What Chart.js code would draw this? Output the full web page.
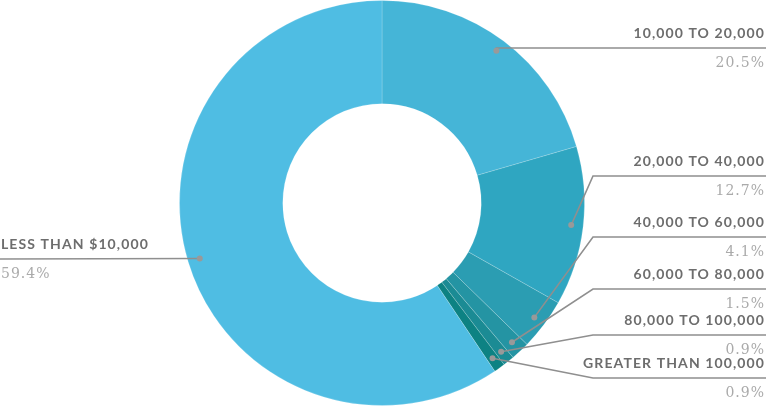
<!DOCTYPE html>
<html>
<head>
<meta charset="utf-8">
<script src="https://cdn.jsdelivr.net/npm/chart.js@4"></script>
<style>
  html, body { margin: 0; padding: 0; background: #fff; }
  #wrap { width: 768px; height: 406px; position: relative; }
</style>
</head>
<body>
<div id="wrap"><canvas id="chartId"></canvas></div>
<script>
const categories = ["10,000 TO 20,000", "20,000 TO 40,000", "40,000 TO 60,000", "60,000 TO 80,000",
  "80,000 TO 100,000", "GREATER THAN 100,000", "LESS THAN $10,000"];
const shares = [20.5, 12.7, 4.1, 1.5, 0.9, 0.9, 59.4];
const colors = ["#45b5d7", "#2fa6c1", "#2b9db2", "#2494a3", "#1b8b94", "#0d8283", "#4fbde3"];

// where each leader line ends up (y of the horizontal rule, which side)
const callouts = [
  { y: 48, side: "right", elbow: false },
  { y: 176, side: "right", elbow: true },
  { y: 237, side: "right", elbow: true },
  { y: 289, side: "right", elbow: true },
  { y: 335, side: "right", elbow: true },
  { y: 378, side: "right", elbow: true },
  { y: 259, side: "left", elbow: false }
];

const leaderPlugin = {
  id: 'leaders',
  afterDraw(chart) {
    const ctx = chart.ctx;
    const meta = chart.getDatasetMeta(0);
    const W = chart.width;
    ctx.save();
    meta.data.forEach((arc, i) => {
      const c = callouts[i];
      const mid = (arc.startAngle + arc.endAngle) / 2;
      const r = arc.outerRadius - 12;
      const px = arc.x + Math.cos(mid) * r;
      const py = arc.y + Math.sin(mid) * r;

      ctx.strokeStyle = '#8f8f8f';
      ctx.lineWidth = 1.6;
      ctx.beginPath();
      ctx.moveTo(px, py);
      if (c.side === 'right') {
        if (c.elbow) ctx.lineTo(593, c.y);
        else ctx.lineTo(px, c.y);
        ctx.lineTo(W - 2, c.y);
      } else {
        ctx.lineTo(0, c.y);
      }
      ctx.stroke();

      ctx.fillStyle = '#999999';
      ctx.beginPath();
      ctx.arc(px, py, 3, 0, Math.PI * 2);
      ctx.fill();

      const tx = c.side === 'right' ? W - 3 : 1;
      ctx.textAlign = c.side === 'right' ? 'right' : 'left';
      ctx.textBaseline = 'alphabetic';
      ctx.letterSpacing = '1.1px';
      ctx.font = 'bold 14px Lato';
      ctx.fillStyle = '#6d6d6d';
      ctx.fillText(categories[i], tx, c.y - 10);

      ctx.letterSpacing = '1px';
      ctx.font = '14px "DejaVu Serif"';
      ctx.fillStyle = '#aaaaaa';
      ctx.fillText(shares[i].toFixed(1) + '%', tx, c.y + 19);
    });
    ctx.restore();
  }
};

const chrt = document.getElementById('chartId').getContext('2d');
window.doughnutChart = new Chart(chrt, {
  type: 'doughnut',
  data: {
    labels: categories,
    datasets: [{
      data: shares,
      backgroundColor: colors,
      borderColor: 'rgba(255,255,255,0.18)',
      borderWidth: 1
    }]
  },
  options: {
    responsive: true,
    maintainAspectRatio: false,
    animation: false,
    cutout: '49%',
    layout: { padding: { left: 0, right: 4, top: 0, bottom: 0 } },
    plugins: {
      legend: { display: false },
      tooltip: { enabled: false }
    }
  },
  plugins: [leaderPlugin]
});
</script>
</body>
</html>
